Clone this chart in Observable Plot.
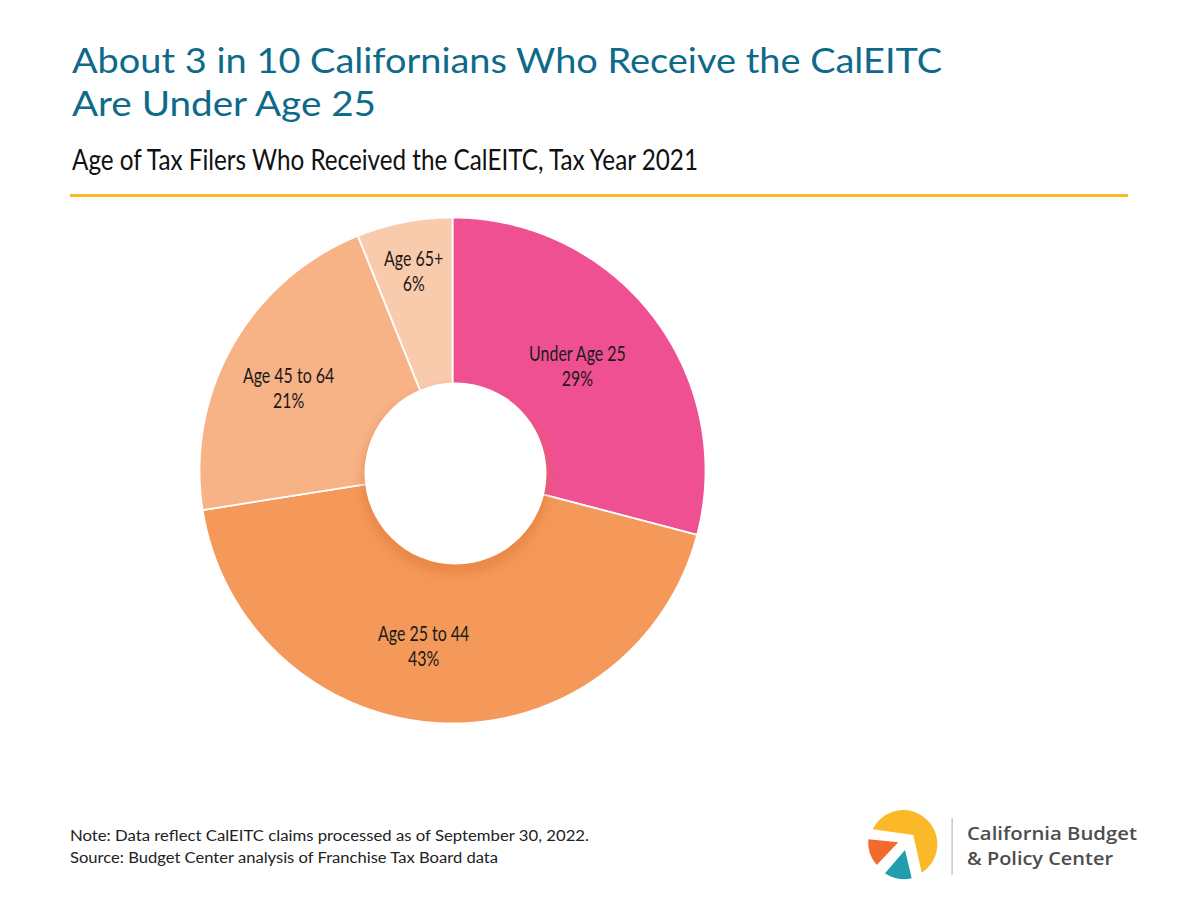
<!DOCTYPE html>
<html>
<head>
<meta charset="utf-8">
<script src="https://cdn.jsdelivr.net/npm/d3@7"></script>
<script src="https://cdn.jsdelivr.net/npm/@observablehq/plot@0.6"></script>
<style>
  html, body { margin: 0; padding: 0; background: #fff; }
  #page { position: relative; width: 1200px; height: 900px; overflow: hidden; }
  #frame { position: absolute; left: 0; top: 0; }
  #chart { position: absolute; left: 199px; top: 217px; }
</style>
</head>
<body>
<div id="page">
  <svg id="frame" width="1200" height="900" xmlns="http://www.w3.org/2000/svg">
    <g font-family="Lato, 'Open Sans', sans-serif" fill="#0E6A8A" font-size="34">
      <text x="72" y="73" textLength="870" lengthAdjust="spacingAndGlyphs">About 3 in 10 Californians Who Receive the CalEITC</text>
      <text x="72" y="116" textLength="304" lengthAdjust="spacingAndGlyphs">Are Under Age 25</text>
    </g>
    <text x="72" y="170" font-family="Lato, 'Liberation Sans', sans-serif" font-size="28" fill="#111" textLength="626" lengthAdjust="spacingAndGlyphs">Age of Tax Filers Who Received the CalEITC, Tax Year 2021</text>
    <rect x="70" y="194" width="1058" height="3" fill="#FBB829"/>
    <g font-family="Lato, 'Open Sans', sans-serif" font-weight="400" font-size="14.5" fill="#222">
      <text x="70" y="841" textLength="519" lengthAdjust="spacingAndGlyphs">Note: Data reflect CalEITC claims processed as of September 30, 2022.</text>
      <text x="70" y="863" textLength="428" lengthAdjust="spacingAndGlyphs">Source: Budget Center analysis of Franchise Tax Board data</text>
    </g>
    <!-- logo -->
    <g>
      <path d="M872.7,829.3 L913.3,835 L921.7,872.7 A34,34 0 1,0 872.7,829.3 Z" fill="#FBB829"/>
      <path d="M868.3,839.3 L898.3,842.3 L876.7,865 A34,34 0 0,1 868.3,839.3 Z" fill="#F26B2A"/>
      <path d="M885,873.3 L905,850 L911.7,878.3 A34,34 0 0,1 885,873.3 Z" fill="#229DAE"/>
      <rect x="951.5" y="818" width="1.2" height="57" fill="#bbb"/>
      <g font-family="'Open Sans', sans-serif" font-weight="600" font-size="17.5" fill="#4d4d4d">
        <text x="967" y="840" textLength="170" lengthAdjust="spacingAndGlyphs">California Budget</text>
        <text x="967" y="865" textLength="146" lengthAdjust="spacingAndGlyphs">&amp; Policy Center</text>
      </g>
    </g>
  </svg>
  <div id="chart"></div>
</div>
<script>
// ---- data ----
const categories = ["Under Age 25", "Age 25 to 44", "Age 45 to 64", "Age 65+"];
const shares = [29.1, 43.4, 21.4, 6.1];
const shareLabels = ["29%", "43%", "21%", "6%"];
const colors = ["#EF5091", "#F4995A", "#F7B286", "#F9CBAD"];

// ---- layout (not data) ----
const R = 253;              // outer radius in px (plot is 2R square)
const innerR = 0.33;        // inner edge of the slices (covered by the hole)
const holeR = 91;           // hole radius, px
const holeShift = [3 / R, -3 / R];
const labelR = [0.645, 0.70, 0.726, 0.806];
const labelShiftDeg = [-2.4, 6.5, -2.7, 0];

const arcs = d3.pie().sort(null).value(d => d)(shares);

// polygon outline of each slice, in unit-circle coordinates
const outline = [];
arcs.forEach((a, i) => {
  const n = Math.max(2, Math.ceil((a.endAngle - a.startAngle) / (Math.PI / 360)));
  for (let k = 0; k <= n; k++) {
    const t = a.startAngle + (a.endAngle - a.startAngle) * k / n;
    outline.push({slice: categories[i], x: Math.sin(t), y: Math.cos(t)});
  }
  for (let k = n; k >= 0; k--) {
    const t = a.startAngle + (a.endAngle - a.startAngle) * k / n;
    outline.push({slice: categories[i], x: innerR * Math.sin(t), y: innerR * Math.cos(t)});
  }
});

const labels = arcs.map((a, i) => {
  const m = (a.startAngle + a.endAngle) / 2 + labelShiftDeg[i] * Math.PI / 180;
  return {text: `${categories[i]}\n${shareLabels[i]}`, x: labelR[i] * Math.sin(m), y: labelR[i] * Math.cos(m)};
});

const chart = Plot.plot({
  width: 2 * R,
  height: 2 * R,
  margin: 0,
  x: {domain: [-1, 1], axis: null},
  y: {domain: [-1, 1], axis: null},
  color: {domain: categories, range: colors},
  style: {background: "transparent", overflow: "visible"},
  marks: [
    Plot.line(outline, {x: "x", y: "y", z: "slice", fill: "slice", stroke: "white", strokeWidth: 1.8, curve: "linear-closed"}),
    Plot.dot([0], {x: () => holeShift[0], y: () => holeShift[1] - 0.03, r: holeR + 3, fill: "#DC7030", fillOpacity: 0.4, imageFilter: "blur(5px)"}),
    Plot.dot([0], {x: () => holeShift[0], y: () => holeShift[1], r: holeR, fill: "white"}),
    Plot.text(labels, {x: "x", y: "y", text: "text", fontSize: 21, lineHeight: 1.19, fill: "#1a1a1a",
      fontFamily: "Lato, 'Open Sans', sans-serif", className: "slice-label"})
  ]
});
// narrow the label glyphs horizontally (condensed face is not installed)
d3.select(chart).selectAll(".slice-label text").attr("transform", function() {
  return (this.getAttribute("transform") || "") + " scale(0.76,1)";
});
document.getElementById("chart").appendChild(chart);
</script>
</body>
</html>
